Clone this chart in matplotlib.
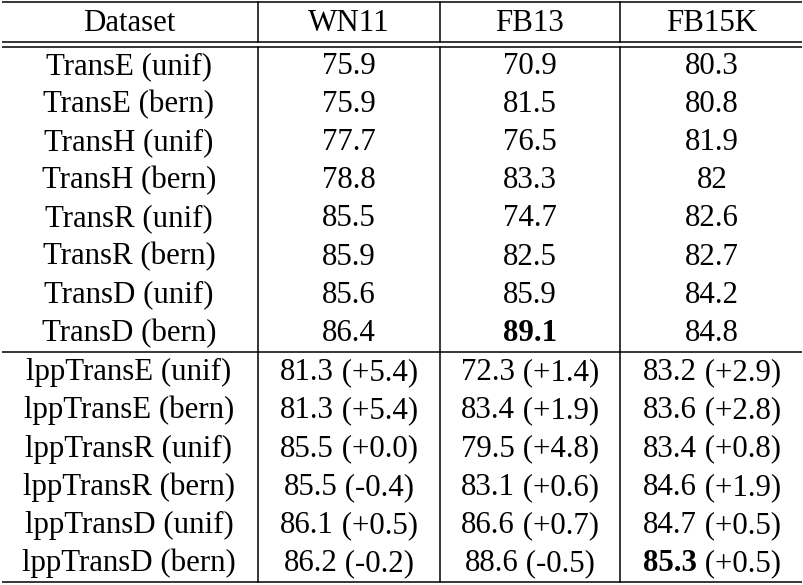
import matplotlib
matplotlib.use("Agg")
import matplotlib.pyplot as plt

plt.rcParams['font.family'] = ['Liberation Serif', 'DejaVu Serif']

# table content
headers = ["Dataset", "WN11", "FB13", "FB15K"]
base_models = ["TransE (unif)", "TransE (bern)", "TransH (unif)", "TransH (bern)",
               "TransR (unif)", "TransR (bern)", "TransD (unif)", "TransD (bern)"]
base_wn11 = ["75.9", "75.9", "77.7", "78.8", "85.5", "85.9", "85.6", "86.4"]
base_fb13 = ["70.9", "81.5", "76.5", "83.3", "74.7", "82.5", "85.9", "89.1"]
base_fb15k = ["80.3", "80.8", "81.9", "82", "82.6", "82.7", "84.2", "84.8"]

lpp_models = ["lppTransE (unif)", "lppTransE (bern)", "lppTransR (unif)",
              "lppTransR (bern)", "lppTransD (unif)", "lppTransD (bern)"]
lpp_wn11 = ["81.3", "81.3", "85.5", "85.5", "86.1", "86.2"]
lpp_wn11_diff = ["+5.4", "+5.4", "+0.0", "-0.4", "+0.5", "-0.2"]
lpp_fb13 = ["72.3", "83.4", "79.5", "83.1", "86.6", "88.6"]
lpp_fb13_diff = ["+1.4", "+1.9", "+4.8", "+0.6", "+0.7", "-0.5"]
lpp_fb15k = ["83.2", "83.6", "83.4", "84.6", "84.7", "85.3"]
lpp_fb15k_diff = ["+2.9", "+2.8", "+0.8", "+1.9", "+0.5", "+0.5"]

# best results shown in bold: (section, row, column)
bold_cells = [("base", 7, 2), ("lpp", 5, 3)]

W, H = 804, 585
fig = plt.figure(figsize=(W / 100, H / 100), dpi=100)
ax = fig.add_axes([0, 0, 1, 1])
ax.set_xlim(0, W)
ax.set_ylim(H, 0)
ax.axis('off')

fs = 22.2
lw = 1.1
col_edges = [0, 258, 440, 620, W]
col_mid = [(a + b) / 2 for a, b in zip(col_edges[:-1], col_edges[1:])]
top, dbl1, dbl2 = 2, 41.5, 47
row_h = 38.1
sep = dbl2 + row_h * len(base_models)
bottom = sep + 38.3 * len(lpp_models)
renderer = fig.canvas.get_renderer()


def put(x, y, parts):
    # parts: list of (text, bold); centred at x, baseline y
    texts = [ax.text(0, y, s, fontsize=fs, va='baseline', ha='left',
                     fontweight='bold' if b else 'normal') for s, b in parts]
    widths = [t.get_window_extent(renderer).width for t in texts]
    x0 = x - sum(widths) / 2
    for t, w in zip(texts, widths):
        t.set_x(x0)
        x0 += w


# rules
for y in [top, dbl1, dbl2, sep, bottom]:
    ax.plot([2, W - 2], [y, y], color='black', lw=lw, solid_capstyle='butt')
for x in col_edges[1:-1]:
    ax.plot([x, x], [top, dbl1], color='black', lw=lw)
    ax.plot([x, x], [dbl2, bottom], color='black', lw=lw)

# header
for j, h in enumerate(headers):
    put(col_mid[j], 31, [(h, False)])

# base models
for i, m in enumerate(base_models):
    yb = dbl2 + row_h * (i + 0.5) + 8
    vals = [base_wn11[i], base_fb13[i], base_fb15k[i]]
    put(col_mid[0], yb, [(m, False)])
    for j, v in enumerate(vals):
        put(col_mid[j + 1], yb, [(v, ("base", i, j + 1) in bold_cells)])

# lpp models
for i, m in enumerate(lpp_models):
    yb = sep + 38.3 * (i + 0.5) + 9
    vals = [(lpp_wn11[i], lpp_wn11_diff[i]), (lpp_fb13[i], lpp_fb13_diff[i]),
            (lpp_fb15k[i], lpp_fb15k_diff[i])]
    put(col_mid[0], yb, [(m, False)])
    for j, (v, d) in enumerate(vals):
        put(col_mid[j + 1], yb, [(v, ("lpp", i, j + 1) in bold_cells),
                                 (" (" + d + ")", False)])

fig.savefig("out.png", dpi=100)
